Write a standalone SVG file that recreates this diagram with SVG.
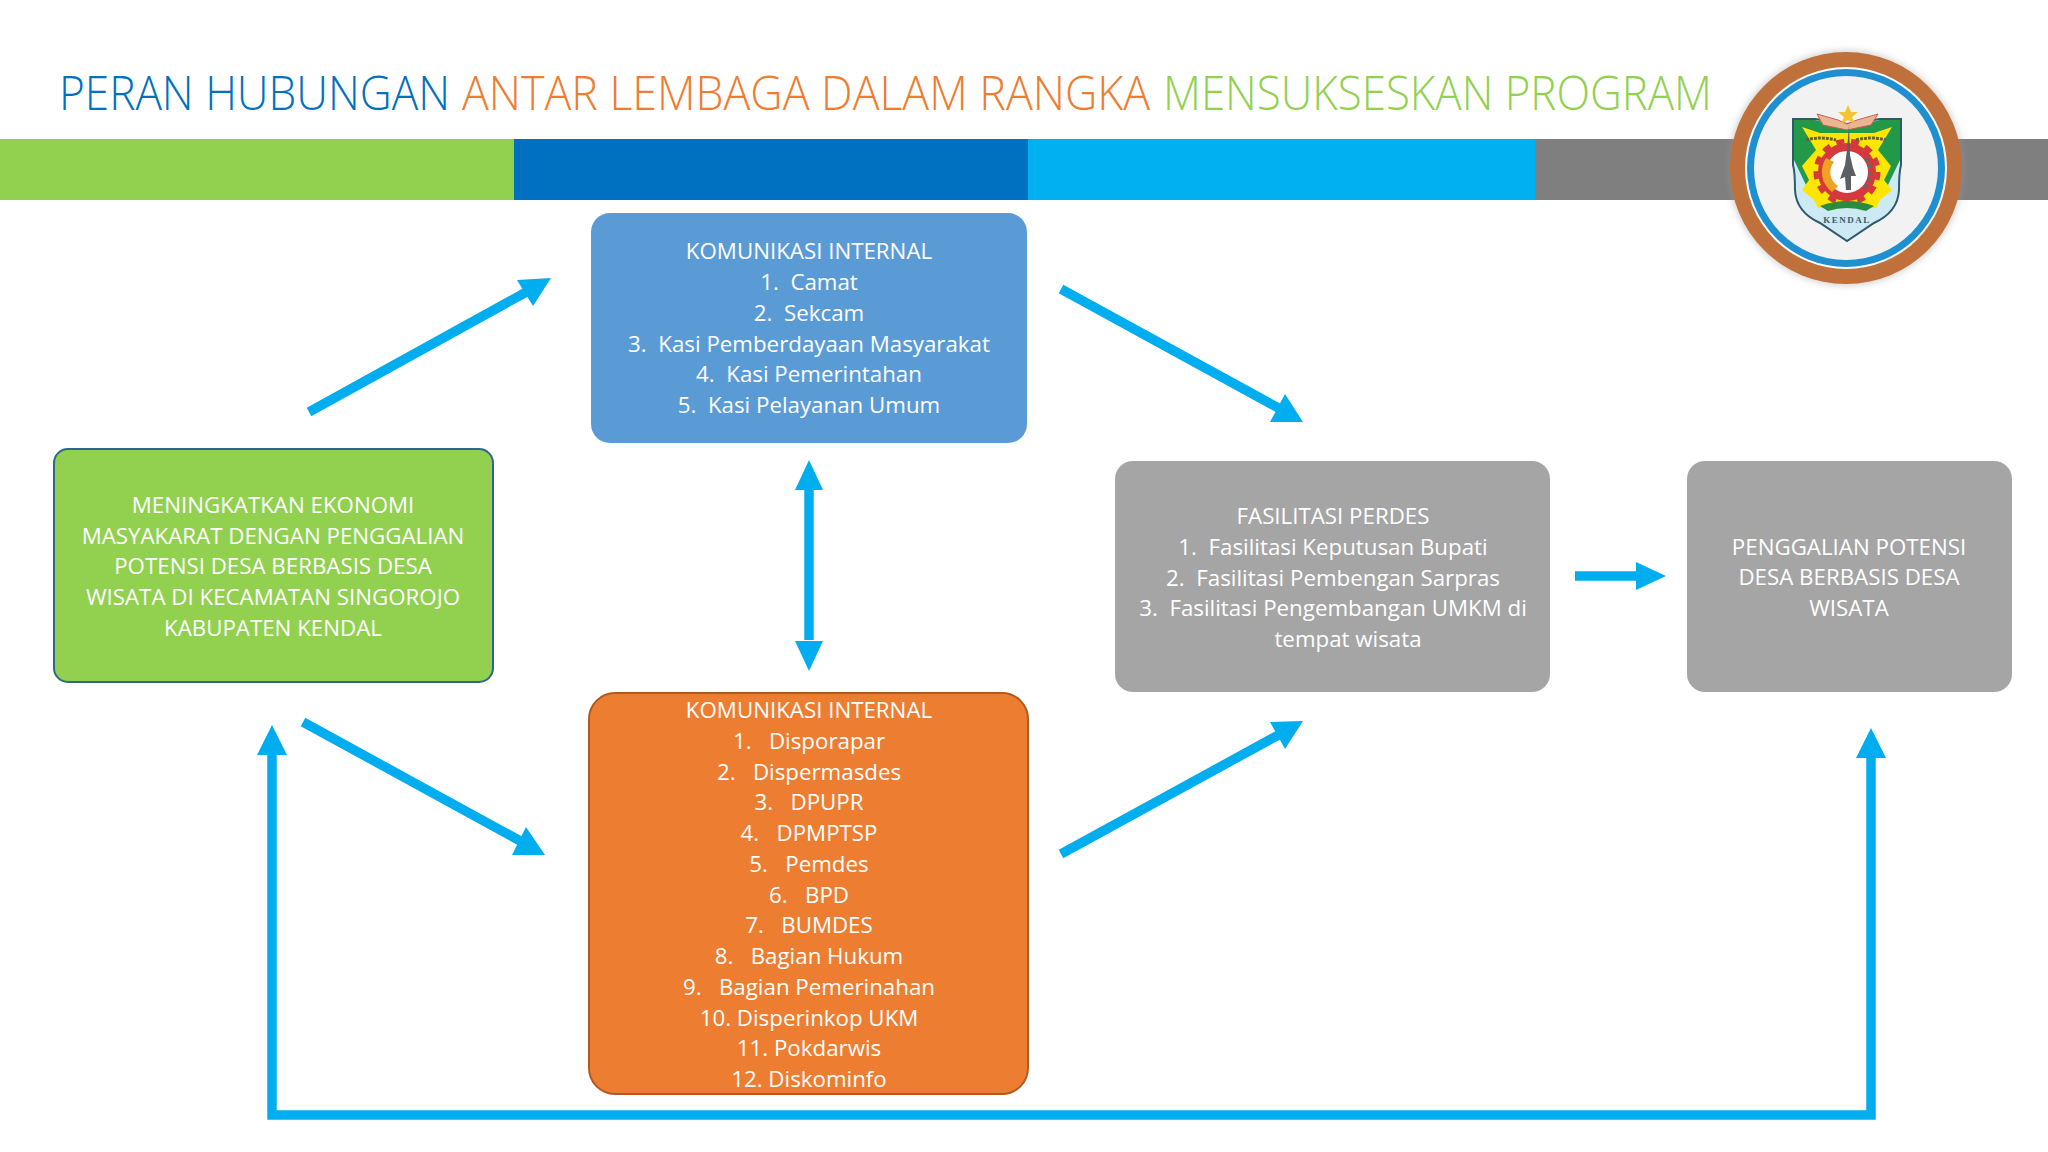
<svg xmlns="http://www.w3.org/2000/svg" width="2048" height="1152" viewBox="0 0 2048 1152">
<style>
.t{font-family:"Open Sans","Noto Sans",sans-serif;font-size:22.300px;fill:#fff;text-anchor:middle}
.title{font-family:"Open Sans","Noto Sans",sans-serif;font-size:47px;font-weight:300}
.c{fill:none;stroke:#00aeef;stroke-width:9.500}
.h{fill:#00aeef}
</style>
<defs><filter id="s" x="-10%" y="-10%" width="120%" height="120%"><feGaussianBlur stdDeviation="3"/></filter><filter id="b" x="-5%" y="-5%" width="110%" height="110%"><feGaussianBlur stdDeviation=".7"/></filter></defs>
<rect width="2048" height="1152" fill="#fff"/>
<g id="banner">
<rect x="0" y="139" width="514" height="61" fill="#92d050"/>
<rect x="514" y="139" width="514" height="61" fill="#0070c0"/>
<rect x="1028" y="139" width="507" height="61" fill="#00b0f0"/>
<rect x="1535" y="139" width="513" height="61" fill="#7f7f7f"/>
</g>
<g id="title" class="title">
<text x="59" y="110" fill="#0070c0" textLength="391" lengthAdjust="spacingAndGlyphs">PERAN HUBUNGAN</text>
<text x="462" y="110" fill="#ed7d31" textLength="688" lengthAdjust="spacingAndGlyphs">ANTAR LEMBAGA DALAM RANGKA</text>
<text x="1163" y="110" fill="#92d050" textLength="549" lengthAdjust="spacingAndGlyphs">MENSUKSESKAN PROGRAM</text>
</g>
<g id="emblem">
<circle cx="1846" cy="168" r="118" fill="#999" opacity=".4" filter="url(#s)"/>
<circle cx="1846" cy="168" r="116" fill="#c0703a"/>
<circle cx="1846" cy="168" r="101" fill="#fff"/>
<circle cx="1846" cy="168" r="99" fill="#1e8fd0"/>
<circle cx="1846" cy="168" r="92" fill="#f2f2f2"/>
<g filter="url(#b)">
<path d="M1793 119H1815L1847 124 1880 119H1901V165Q1899 172 1899 190 1898 212 1874 223L1847 241 1820 223Q1796 212 1795 190 1795 172 1793 165Z" fill="#cde9f3" stroke="#2d5a6e" stroke-width="2"/>
<path d="M1794 120H1815L1847 128 1880 120H1900V160L1888 185H1806L1794 160Z" fill="#20994a"/>
<path d="M1802 127L1820 133H1874L1892 127 1878 150 1891 166 1884 180 1892 190 1880 200 1876 208H1818L1814 200 1802 190 1809 180 1802 166 1816 150Z" fill="#ffe600"/>
<path d="M1817 114L1838 120 1847 124 1857 120 1878 114 1871 125 1847 130 1823 125Z" fill="#e9b691" stroke="#d05a50" stroke-width="1"/>
<path d="M1848 105L1851 112 1858 112 1852 117 1855 124 1848 120 1841 124 1844 117 1838 112 1845 112Z" fill="#f4c430"/>
<circle cx="1847" cy="172" r="25" fill="#fff" stroke="#d5383d" stroke-width="8"/>
<circle cx="1847" cy="172" r="31" fill="none" stroke="#d5383d" stroke-width="5" stroke-dasharray="8 7"/>
<path d="M1826 158A25 25 0 0 0 1832 192L1838 186A16 16 0 0 1 1834 162Z" fill="#f0a020"/>
<path d="M1866 158A24 24 0 0 1 1862 190" fill="none" stroke="#5a6a70" stroke-width="3" stroke-dasharray="4 3"/>
<path d="M1849 125L1850 155 1853 168 1856 176 1851 176 1851 190 1846 190 1845 177 1840 179 1845 165 1847 150Z" fill="#5a6063"/>
<path d="M1820 206Q1847 196 1874 206L1866 211Q1847 205 1828 211Z" fill="#2e8b3d"/>
<path d="M1806 140Q1821 136 1836 140" fill="none" stroke="#6a6030" stroke-width="3" stroke-dasharray="3 1"/>
<path d="M1856 140Q1872 136 1886 140" fill="none" stroke="#6a6030" stroke-width="3" stroke-dasharray="3 1"/>
</g>
<text x="1847" y="223" font-family="Liberation Serif,serif" font-size="9" font-weight="700" letter-spacing="1.500" fill="#33606e" text-anchor="middle">KENDAL</text>
</g>
<g id="connectors">
<path class="c" d="M309 412L530 290"/><path class="h" d="M551 278L517 280 533 306z"/>
<path class="c" d="M1061 289L1282 410"/><path class="h" d="M1303 422L1270 422 1285 394z"/>
<path class="c" d="M809 480V640"/><path class="h" d="M809 460L795 490H823z"/><path class="h" d="M809 671L795 641H823z"/>
<path class="c" d="M303 722L524 843"/><path class="h" d="M545 855L512 855 526 827z"/>
<path class="c" d="M1061 854L1282 733"/><path class="h" d="M1303 721L1270 722 1285 749z"/>
<path class="c" d="M1575 576H1640"/><path class="h" d="M1666 576L1636 562V590z"/>
<path class="c" d="M272 750V1115H1871V755"/>
<path class="h" d="M272 725L257 755H287z"/><path class="h" d="M1871 728L1856 758H1886z"/>
</g>
<g id="node-blue">
<rect x="591" y="213" width="436" height="230" rx="19" fill="#5b9bd5"/>
<text class="t" xml:space="preserve"><tspan x="809" y="259">KOMUNIKASI INTERNAL</tspan><tspan x="809" y="290">1.  Camat</tspan><tspan x="809" y="320.500">2.  Sekcam</tspan><tspan x="809" y="351.500">3.  Kasi Pemberdayaan Masyarakat</tspan><tspan x="809" y="382">4.  Kasi Pemerintahan</tspan><tspan x="809" y="413">5.  Kasi Pelayanan Umum</tspan></text>
</g>
<g id="node-green">
<rect x="54" y="449" width="439" height="233" rx="14" fill="#92d050" stroke="#2f6690" stroke-width="2"/>
<text class="t"><tspan x="273" y="513">MENINGKATKAN EKONOMI</tspan><tspan x="273" y="543.500">MASYAKARAT DENGAN PENGGALIAN</tspan><tspan x="273" y="574">POTENSI DESA BERBASIS DESA</tspan><tspan x="273" y="605">WISATA DI KECAMATAN SINGOROJO</tspan><tspan x="273" y="636">KABUPATEN KENDAL</tspan></text>
</g>
<g id="node-orange">
<rect x="589" y="693" width="439" height="401" rx="26" fill="#ed7d31" stroke="#ae5a21" stroke-width="2"/>
<text class="t" xml:space="preserve"><tspan x="809" y="718">KOMUNIKASI INTERNAL</tspan><tspan x="809" y="749">1.   Disporapar</tspan><tspan x="809" y="780">2.   Dispermasdes</tspan><tspan x="809" y="810">3.   DPUPR</tspan><tspan x="809" y="841">4.   DPMPTSP</tspan><tspan x="809" y="872">5.   Pemdes</tspan><tspan x="809" y="902.500">6.   BPD</tspan><tspan x="809" y="933">7.   BUMDES</tspan><tspan x="809" y="964">8.   Bagian Hukum</tspan><tspan x="809" y="995">9.   Bagian Pemerinahan</tspan><tspan x="809" y="1025.500">10. Disperinkop UKM</tspan><tspan x="809" y="1056">11. Pokdarwis</tspan><tspan x="809" y="1087">12. Diskominfo</tspan></text>
</g>
<g id="node-gray1">
<rect x="1115" y="461" width="435" height="231" rx="18" fill="#a5a5a5"/>
<text class="t" xml:space="preserve"><tspan x="1333" y="524">FASILITASI PERDES</tspan><tspan x="1333" y="555">1.  Fasilitasi Keputusan Bupati</tspan><tspan x="1333" y="585.500">2.  Fasilitasi Pembengan Sarpras</tspan><tspan x="1333" y="616">3.  Fasilitasi Pengembangan UMKM di</tspan><tspan x="1348" y="647">tempat wisata</tspan></text>
</g>
<g id="node-gray2">
<rect x="1687" y="461" width="325" height="231" rx="18" fill="#a5a5a5"/>
<text class="t"><tspan x="1849" y="554.500">PENGGALIAN POTENSI</tspan><tspan x="1849" y="585">DESA BERBASIS DESA</tspan><tspan x="1849" y="616">WISATA</tspan></text>
</g>
</svg>
